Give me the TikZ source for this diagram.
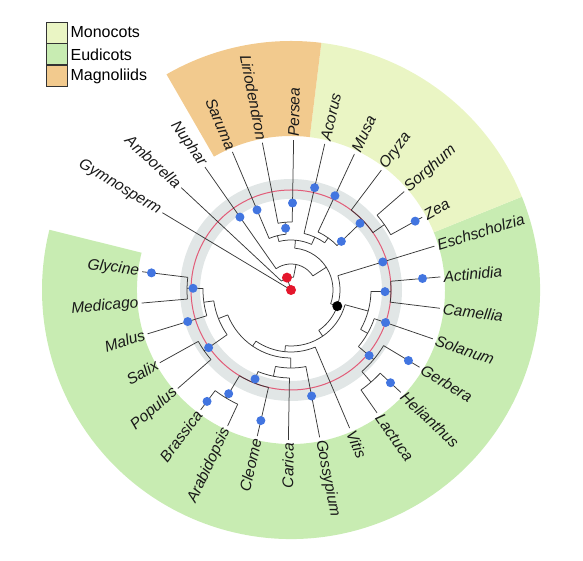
\documentclass[tikz,border=0pt]{standalone}
\usepackage{fontspec}
\setmainfont{Liberation Sans}
\usetikzlibrary{positioning}

\definecolor{monofill}{RGB}{234,245,196}
\definecolor{eudfill}{RGB}{200,236,178}
\definecolor{magfill}{RGB}{242,202,142}
\definecolor{bandgray}{RGB}{225,230,230}
\definecolor{kpgred}{RGB}{226,92,120}
\definecolor{wgdblue}{RGB}{66,117,224}
\definecolor{rootred}{RGB}{228,22,44}

\begin{document}
\begin{tikzpicture}[
  x=1pt, y=1pt,
  branch/.style={draw=black!78, line width=0.75pt},
  wgd/.style={circle, fill=wgdblue, inner sep=0pt, minimum size=9pt},
  rootdot/.style={circle, fill=rootred, inner sep=0pt, minimum size=10pt},
  eudot/.style={circle, fill=black, inner sep=0pt, minimum size=10pt},
  taxon/.style={font=\fontsize{15.5}{18}\selectfont\itshape, text=black!90, inner sep=1pt},
  legbox/.style={draw=black!80, line width=0.8pt, minimum width=21pt, minimum height=21pt, inner sep=0pt},
  legtext/.style={font=\fontsize{16}{19}\selectfont, inner sep=0pt},
  node distance=3pt
]
\useasboundingbox (0,0) rectangle (583,561);

\node[legbox, fill=monofill] (monokey) at (56.5,528.5) {};
\node[legbox, fill=eudfill, below=0pt of monokey] (eudkey) {};
\node[legbox, fill=magfill, below=0pt of eudkey] (magkey) {};
\node[legtext, right=of monokey] (monotext) {Monocots};
\node[legtext, right=of eudkey] (eudtext) {Eudicots};
\node[legtext, right=of magkey] (magtext) {Magnoliids};

\begin{scope}[shift={(291,271)}]
\fill[eudfill] (-194:154pt) arc[start angle=-194, end angle=22, radius=154pt]
  -- (22:249pt) arc[start angle=22, end angle=-194, radius=249pt] -- cycle;
\fill[monofill] (22:154pt) arc[start angle=22, end angle=83, radius=154pt]
  -- (83:249pt) arc[start angle=83, end angle=22, radius=249pt] -- cycle;
\fill[magfill] (83:154pt) arc[start angle=83, end angle=120, radius=154pt]
  -- (120:249pt) arc[start angle=120, end angle=83, radius=249pt] -- cycle;

\fill[bandgray, even odd rule] (0,0) circle[radius=111pt] (0,0) circle[radius=91pt];
\draw[kpgred, line width=1pt] (0,0) circle[radius=100pt];

\foreach \ta/\tr/\tp/\tb/\te in {
  108/13/0/137/78.9, 78.9/26/13/125/32.8, 32.8/42/26/84.9/-19.2,
  84.9/50/42/104/65.75, 104/56/50/113/95, 95/68/56/101/89,
  65.75/58/50/77/54.5, 54.5/64/58/65/44, 44/100/64/53/35, 35/114/100/41/29,
  -19.2/49/42/17/-55.5, -55.5/56/49/-15.25/-95.7, -15.25/80/56/-1/-29.5,
  -1/100/80/5/-7, -29.5/88/80/-19/-40, -40/108/88/-31/-49, -49/122/108/-43/-55,
  -95.7/62/56/-67/-124.4, -124.4/68/62/-90.25/-158.5, -90.25/78/68/-79/-101.5,
  -101.5/88/78/-91/-112, -112/100/88/-103/-121, -121/126/100/-115/-127,
  -158.5/78/68/-145/-172, -145/106/78/-139/-151, -172/88/78/-163/-181,
  -181/104/88/-175/-187}{
  \draw[branch] (\ta:\tp pt) -- (\ta:\tr pt);
  \draw[branch] (\tb:\tr pt) arc[start angle=\tb, end angle=\te, radius=\tr pt];
}

\foreach \ta/\tp/\tn/\tx in {
  89/68/pers/Persea, 77/58/acor/Acorus, 65/64/musa/Musa, 53/100/oryz/Oryza,
  41/114/sorg/Sorghum, 29/114/zea/Zea, 17/49/esch/Eschscholzia,
  5/100/acti/Actinidia, -7/100/came/Camellia, -19/88/sola/Solanum,
  -31/108/gerb/Gerbera, -43/122/heli/Helianthus, -55/122/lact/Lactuca,
  -67/62/viti/Vitis, -79/78/goss/Gossypium}{
  \coordinate (\tn) at (\ta:150pt);
  \draw[branch] (\ta:\tp pt) -- (\tn);
  \node[taxon, rotate=\ta, anchor=west] (\tn-lab) at (\ta:152pt) {\tx};
}

\foreach \ta/\tp/\tn/\tx in {
  149/0/gymn/Gymnosperm, 137/13/ambo/Amborella, 125/26/nuph/Nuphar,
  113/56/saru/Saruma, 101/68/liri/Liriodendron, -91/88/cari/Carica,
  -103/100/cleo/Cleome, -115/126/arab/Arabidopsis, -127/126/bras/Brassica,
  -139/106/popu/Populus, -151/106/sali/Salix, -163/88/malu/Malus,
  -175/104/medi/Medicago, -187/104/glyc/Glycine}{
  \coordinate (\tn) at (\ta:150pt);
  \draw[branch] (\ta:\tp pt) -- (\tn);
  \node[taxon, rotate=\ta-180, anchor=east] (\tn-lab) at (\ta:152pt) {\tx};
}

\foreach \ta/\tr [count=\k] in {
  125/89, 113/87, 89/87, 95/62, 77/105, 65/104, 44/70, 44/96, 29/142,
  17/96, 5/132, -1/94, -19/100, -40/102, -31/137, -43/136, -79/108,
  -112/96, -121/121, -127/139.5, -103/134, -145/100.6, -163/108,
  -181/98, -187/140.6}
  \node[wgd] (wgd\k) at (\ta:\tr pt) {};

\node[rootdot] (root) at (0,0) {};
\node[rootdot] (angio) at (108:13pt) {};
\node[eudot] (eudi) at (-19.2:49pt) {};
\end{scope}
\end{tikzpicture}
\end{document}
